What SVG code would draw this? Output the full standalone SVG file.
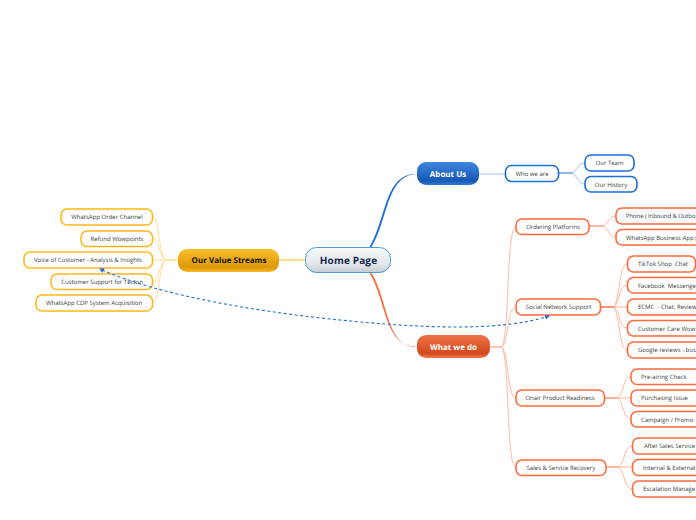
<svg xmlns="http://www.w3.org/2000/svg" width="696" height="520" viewBox="0 0 696 520">
<style>
text{font-family:"Open Sans","Noto Sans",sans-serif;text-anchor:middle;font-size:6px;fill:#3a3a3a;white-space:pre;text-rendering:geometricPrecision}
.s{text-anchor:start}
.b{font-weight:700;font-size:8px}
.w{fill:#fff}
.n{fill:#fff;stroke-width:1.6}
.o{stroke:#ffb81c}.u{stroke:#1f6fd8}.r{stroke:#ff6a3d}
.l{fill:none;stroke-width:1}
.lo{stroke:#ffdc94}.lu{stroke:#9cc3f2}.lr{stroke:#ffb9a0}
</style>
<defs>
<linearGradient id="gh" x1="0" y1="0" x2="0" y2="1"><stop offset="0" stop-color="#f6f8f9"/><stop offset=".65" stop-color="#e4e8eb"/><stop offset="1" stop-color="#c4ccd2"/></linearGradient>
<linearGradient id="gb" x1="0" y1="0" x2="0" y2="1"><stop offset="0" stop-color="#3f86e0"/><stop offset=".8" stop-color="#1658b4"/><stop offset="1" stop-color="#2f78d6"/></linearGradient>
<linearGradient id="gr" x1="0" y1="0" x2="0" y2="1"><stop offset="0" stop-color="#ee7248"/><stop offset=".8" stop-color="#d24a1e"/><stop offset="1" stop-color="#f77a52"/></linearGradient>
<linearGradient id="gy" x1="0" y1="0" x2="0" y2="1"><stop offset="0" stop-color="#fcbf2c"/><stop offset=".8" stop-color="#dc9808"/><stop offset="1" stop-color="#fbbb2a"/></linearGradient>
<marker id="ah" markerWidth="6" markerHeight="6" refX="4" refY="2.500" orient="auto-start-reverse" markerUnits="userSpaceOnUse"><path d="M0 0L5 2.500L0 5z" fill="#1f6fd8"/></marker>
</defs>
<g id="connectors">
<path d="M369.500 247C387 218 384 173.700 417 173.700V174.100C386 175 388.500 220 371 248z" fill="#1f6fd8"/>
<path d="M369.500 273C387 302 384 346.700 417 346.700V347.100C386 348 388.500 300 371 272z" fill="#ff6a3d"/>
<path d="M305 260H279" fill="none" stroke="#ffc53d" stroke-width="1.2"/>
<path class="l lu" d="M479 174H505" stroke-width="1.3"/>
<path class="l" stroke="#ffc53d" d="M178 260H166"/>
<path class="l lo" d="M166 260C158 254 160 217 152 217M166 260C158 256 160 238 152 238M166 260H152M166 260C158 264 160 282 152 282M166 260C158 266 160 303 152 303"/>
<path class="l u" d="M558 173H572"/>
<path class="l lu" d="M572 173C578 170 578 163 585 163M572 173C578 176 578 184 585 184"/>
<path class="l" stroke="#ff8a66" stroke-width="1.5" d="M490 347H502"/>
<path class="l lr" d="M502 347C510 330 506 227 516 227M502 347C509 340 507 307 516 307M502 347C509 354 507 398 516 398M502 347C510 364 506 467 516 467"/>
<path class="l r" d="M589 226H603"/>
<path class="l lr" d="M603 226C609 223 609 216 616 216M603 226C609 229 609 237 616 237"/>
<path class="l r" d="M601 307H614" style="stroke-width:1.5"/>
<path class="l lr" d="M614 307C620 297 619 264 627 264M614 307C620 302 619 285 627 285M614 307H627M614 307C620 312 619 328 627 328M614 307C620 317 619 350 627 350"/>
<path class="l" stroke="#ff9a7a" style="stroke-width:1.5" d="M605 398H618"/>
<path class="l lr" d="M618 398C624 393 623 377 631 377M618 398H631M618 398C624 403 623 419 631 419"/>
<path class="l r" d="M606 467H619"/>
<path class="l lr" d="M619 467C625 462 624 446 632 446M619 467H632M619 467C625 472 624 489 632 489"/>
</g>
<g id="home"><rect x="305.500" y="247.500" width="85" height="25" rx="11" fill="url(#gh)" stroke="#4a9ad4" stroke-width="1"/><text x="348.500" y="264" style="font-size:10px;font-weight:700;fill:#14244e;letter-spacing:.15px">Home Page</text></g>
<g id="about"><rect x="417" y="162" width="62" height="23" rx="9" fill="url(#gb)"/><text class="b w" x="448" y="176.500">About Us</text></g>
<g id="whatwedo"><rect x="417" y="335" width="73" height="23" rx="9" fill="url(#gr)"/><text class="b w" x="453.500" y="349.500">What we do</text></g>
<g id="streams"><rect x="178" y="249" width="101" height="23" rx="9" fill="url(#gy)"/><text class="b" style="fill:#111" x="229" y="263">Our Value Streams</text></g>
<g id="n1"><rect class="n o" x="61" y="209" width="91.500" height="16" rx="6"/><text x="107" y="219">WhatsApp Order Channel</text></g>
<g id="n2"><rect class="n o" x="81" y="231" width="71.500" height="15.500" rx="6"/><text x="117" y="241">Refund Wowpoints</text></g>
<g id="n3"><rect class="n o" x="24" y="252" width="128.500" height="16" rx="6"/><text x="88" y="262">Voice of Customer - Analysis &amp; Insights</text></g>
<g id="n4"><rect class="n o" x="51" y="274" width="101.500" height="15.500" rx="6"/><text x="102" y="284">Customer Support for Tecton</text></g>
<g id="n5"><rect class="n o" x="36" y="295" width="116.500" height="16" rx="6"/><text x="94" y="305">WhatsApp CDP System Acquisition</text></g>
<g id="n6"><rect class="n u" x="505.500" y="165.500" width="53" height="16" rx="6"/><text x="532" y="175.500">Who we are</text></g>
<g id="n7"><rect class="n u" x="585" y="155" width="49" height="16" rx="6"/><text x="609.500" y="165">Our Team</text></g>
<g id="n8"><rect class="n u" x="585" y="176.500" width="52" height="15.500" rx="6"/><text x="611" y="186.500">Our History</text></g>
<g id="n9"><rect class="n r" x="516" y="219" width="73" height="15.500" rx="6"/><text x="553" y="229">Ordering Platforms</text></g>
<g id="n10"><rect class="n r" x="616" y="208" width="100" height="16" rx="6"/><text class="s" x="626" y="218" textLength="69.500">Phone ( Inbound &amp; Outbo</text></g>
<g id="n11"><rect class="n r" x="616" y="229.500" width="100" height="15.500" rx="6"/><text class="s" x="626" y="239.500">WhatsApp Business App (</text></g>
<g id="n12"><rect class="n r" x="516" y="299" width="84.500" height="16" rx="6"/><text x="558.500" y="309">Social Network Support</text></g>
<g id="n13"><rect class="n r" x="627.500" y="256" width="68" height="16" rx="6"/><text class="s" x="638" y="266">TikTok Shop  Chat</text></g>
<g id="n14"><rect class="n r" x="627.500" y="277.500" width="100" height="15.500" rx="6"/><text class="s" x="638" y="287.500">Facebook  Messenge</text></g>
<g id="n15"><rect class="n r" x="627.500" y="299" width="100" height="16" rx="6"/><text class="s" x="638" y="309">ECMC  - Chat, Review</text></g>
<g id="n16"><rect class="n r" x="627.500" y="320.500" width="100" height="15.500" rx="6"/><text class="s" x="638" y="330.500">Customer Care Wow</text></g>
<g id="n17"><rect class="n r" x="627.500" y="342" width="100" height="16" rx="6"/><text class="s" x="638" y="352">Google reviews -.bus</text></g>
<g id="n18"><rect class="n r" x="516" y="390" width="88.500" height="16" rx="6"/><text x="560" y="400">Onair Product Readiness</text></g>
<g id="n19"><rect class="n r" x="631" y="369" width="100" height="15.500" rx="6"/><text class="s" x="641" y="379">Pre-airing Check</text></g>
<g id="n20"><rect class="n r" x="631" y="390" width="100" height="16" rx="6"/><text class="s" x="641" y="400">Purchasing Issue</text></g>
<g id="n21"><rect class="n r" x="631" y="411.500" width="100" height="15.500" rx="6"/><text class="s" x="641" y="421.500">Campaign / Promo</text></g>
<g id="n22"><rect class="n r" x="516" y="460" width="90" height="15.500" rx="6"/><text x="561" y="470">Sales &amp; Service Recovery</text></g>
<g id="n23"><rect class="n r" x="632.500" y="438" width="100" height="16" rx="6"/><text class="s" x="644" y="448">After Sales Service</text></g>
<g id="n24"><rect class="n r" x="632.500" y="459.500" width="100" height="16" rx="6"/><text class="s" x="643" y="470">Internal &amp; External</text></g>
<g id="n25"><rect class="n r" x="632.500" y="481" width="100" height="16" rx="6"/><text class="s" x="643" y="491">Escalation Manage</text></g>
<g id="relation"><path d="M549 316C500 332 420 328 340 320C260 312 160 296 100 269" fill="none" stroke="#1f6fd8" stroke-width="1.1" stroke-dasharray="3 2.500" marker-start="url(#ah)" marker-end="url(#ah)"/></g>
</svg>
